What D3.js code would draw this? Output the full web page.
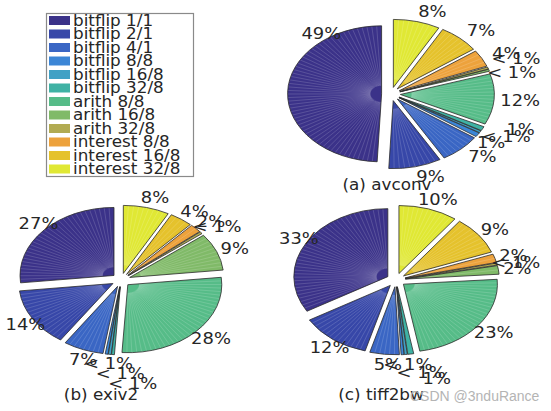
<!DOCTYPE html>
<html>
<head>
<meta charset="utf-8">
<script src="https://cdn.jsdelivr.net/npm/d3@7"></script>
<style>
  html, body { margin: 0; padding: 0; background: #fff; }
  svg { display: block; }
</style>
</head>
<body>
<div id="chart-space"></div>
<script>
// ============================================================================
// AFL mutation stages: share of new paths per fuzzing stage (three targets)
// ============================================================================

// Data
const categories = [
  "bitflip 1/1", "bitflip 2/1", "bitflip 4/1", "bitflip 8/8", "bitflip 16/8", "bitflip 32/8",
  "arith 8/8", "arith 16/8", "arith 32/8", "interest 8/8", "interest 16/8", "interest 32/8"
]

// "< 1%" slices are read as 0.5
const avconvValues = [49, 9, 7, 1, 0.5, 1, 12, 0.5, 0.5, 4, 7, 8]
const avconvLabels = ["49%", "9%", "7%", "1%", "< 1%", "1%", "12%", "< 1%", "< 1%", "4%", "7%", "8%"]

const exiv2Values = [27, 14, 7, 0.5, 0.5, 0.5, 28, 9, 0.5, 2, 4, 8]
const exiv2Labels = ["27%", "14%", "7%", "< 1%", "< 1%", "< 1%", "28%", "9%", "< 1%", "2%", "4%", "8%"]

const tiff2bwValues = [33, 12, 5, 0.5, 0.5, 1, 23, 2, 0.5, 2, 9, 10]
const tiff2bwLabels = ["33%", "12%", "5%", "< 1%", "< 1%", "1%", "23%", "2%", "< 1%", "2%", "9%", "10%"]

const captions = ["(a) avconv", "(b) exiv2", "(c) tiff2bw"]

// Configuration
const CONFIG = {
  width: 551,
  height: 411,
  font: "'DejaVu Sans', sans-serif",
  labelSize: 16,
  legendSize: 15,
  captionSize: 15,
  stretch: 1.12,          // the whole figure was widened, text included
  textColor: "#262626",
  colors: [
    "#3b3289", "#3747a8", "#3a66c4", "#3c86d6", "#41a1c5", "#3fb2a4",
    "#56bc88", "#80ba68", "#b2ab52", "#eda23c", "#e5c22c", "#e0e834"
  ],
  pie: { R: 100, rx: 94, ry: 68, explode: 0.1, labelRadius: 1.25, stagger: 9 },
  legend: { x: 46, y: 13, width: 147, height: 163, rowH: 13.5, swatchW: 21, swatchH: 9 }
}

const charts = [
  { values: avconvValues, labels: avconvLabels, caption: captions[0],
    cx: 391, cy: 94, capX: 387, capY: 190, labelShift: 12, firstLabelAngle: 134 },
  { values: exiv2Values, labels: exiv2Labels, caption: captions[1],
    cx: 121, cy: 280, capX: 101, capY: 400, labelShift: 5 },
  { values: tiff2bwValues, labels: tiff2bwLabels, caption: captions[2],
    cx: 396, cy: 280, capX: 381, capY: 400, labelShift: 5 }
]

function drawAll() {
  const svg = d3.select("#chart-space")
    .append("svg")
    .attr("width", CONFIG.width)
    .attr("height", CONFIG.height)

  charts.forEach(c => drawPie(svg, c))
  drawLegend(svg)

  // watermark left on the source image
  svg.append("text")
    .attr("x", 410)
    .attr("y", 401)
    .attr("font-family", "'Liberation Sans', Arial, sans-serif")
    .attr("font-size", 14)
    .attr("fill", "#b4b4b4")
    .text("CSDN @3nduRance")
}

// stretched text helper
function addText(parent, x, y, str, anchor, size) {
  return parent.append("text")
    .attr("transform", `translate(${x},${y}) scale(${CONFIG.stretch},1)`)
    .attr("text-anchor", anchor || "middle")
    .attr("font-family", CONFIG.font)
    .attr("font-size", size)
    .attr("fill", CONFIG.textColor)
    .attr("dy", "0.36em")
    .text(str)
}

// group consecutive tiny slices so their labels can be fanned out
function smallRuns(values) {
  const pos = values.map(() => ({ k: 0, n: 1 }))
  let i = 0
  while (i < values.length) {
    if (values[i] < 1.5) {
      let j = i
      while (j + 1 < values.length && values[j + 1] < 1.5) j++
      for (let t = i; t <= j; t++) pos[t] = { k: t - i, n: j - i + 1 }
      i = j + 1
    } else {
      i++
    }
  }
  return pos
}

function drawPie(svg, chart) {
  const { R, rx, ry, explode, labelRadius, stagger } = CONFIG.pie

  // counter-clockwise from 12 o'clock, like MATLAB pie
  const arcs = d3.pie().sort(null)
    .startAngle(0)
    .endAngle(-2 * Math.PI)(chart.values)

  const arc = d3.arc().innerRadius(0).outerRadius(R)

  const g = svg.append("g")
    .attr("transform", `translate(${chart.cx},${chart.cy}) scale(${rx / R},${ry / R})`)

  const slices = g.selectAll("g.slice")
    .data(arcs)
    .join("g")
    .attr("class", "slice")
    .attr("transform", d => {
      const m = (d.startAngle + d.endAngle) / 2
      return `translate(${explode * R * Math.sin(m)},${-explode * R * Math.cos(m)})`
    })

  slices.append("path")
    .attr("d", arc)
    .attr("fill", (d, i) => CONFIG.colors[i])

  // faint radial streaks seen in the source rendering
  slices.each(function (d) {
    const span = d.endAngle - d.startAngle
    const n = Math.floor(Math.abs(span) / (3 * Math.PI / 180))
    const angs = d3.range(1, n).map(k => d.startAngle + span * k / n)
    d3.select(this).selectAll("line")
      .data(angs)
      .join("line")
      .attr("x1", a => 0.12 * R * Math.sin(a))
      .attr("y1", a => -0.12 * R * Math.cos(a))
      .attr("x2", a => R * Math.sin(a))
      .attr("y2", a => -R * Math.cos(a))
      .attr("stroke", "#fff")
      .attr("stroke-opacity", 0.22)
      .attr("stroke-width", 0.7)
      .attr("vector-effect", "non-scaling-stroke")
  })

  slices.append("path")
    .attr("d", arc)
    .attr("fill", "none")
    .attr("stroke", "#2b2b2b")
    .attr("stroke-width", 0.8)
    .attr("vector-effect", "non-scaling-stroke")

  // percentage labels: runs of tiny slices fan outwards, centred on the sides
  const runs = smallRuns(chart.values)
  arcs.forEach((d, i) => {
    let m = (d.startAngle + d.endAngle) / 2
    if (i === 0 && chart.firstLabelAngle !== undefined) {
      m = Math.PI / 2 - chart.firstLabelAngle * Math.PI / 180
    }
    const rad = [Math.sin(m), -Math.cos(m)]
    const tan = [-Math.cos(m), -Math.sin(m)]
    const s = (runs[i].k - (runs[i].n - 1) / 2 * Math.abs(rad[0])) * stagger
    const x = chart.cx + chart.labelShift + labelRadius * rx * rad[0] + s * (rad[0] + tan[0])
    const y = chart.cy + labelRadius * ry * rad[1] + s * (rad[1] + tan[1])
    addText(svg, x, y, chart.labels[i], "middle", CONFIG.labelSize)
  })

  addText(svg, chart.capX, chart.capY - 5, chart.caption, "middle", CONFIG.captionSize)
}

function drawLegend(svg) {
  const L = CONFIG.legend
  const g = svg.append("g")

  g.append("rect")
    .attr("x", L.x + 0.5)
    .attr("y", L.y + 0.5)
    .attr("width", L.width)
    .attr("height", L.height)
    .attr("fill", "#fff")
    .attr("stroke", "#8a8a8a")
    .attr("stroke-width", 1.2)

  const y = d3.scalePoint()
    .domain(categories)
    .range([L.y + 7.5, L.y + 7.5 + L.rowH * (categories.length - 1)])

  g.selectAll("rect.swatch")
    .data(categories)
    .join("rect")
    .attr("class", "swatch")
    .attr("x", L.x + 3)
    .attr("y", d => y(d) - L.swatchH / 2)
    .attr("width", L.swatchW)
    .attr("height", L.swatchH)
    .attr("fill", (d, i) => CONFIG.colors[i])

  categories.forEach(c => addText(g, L.x + 27, y(c), c, "start", CONFIG.legendSize))
}

drawAll()
</script>
</body>
</html>
